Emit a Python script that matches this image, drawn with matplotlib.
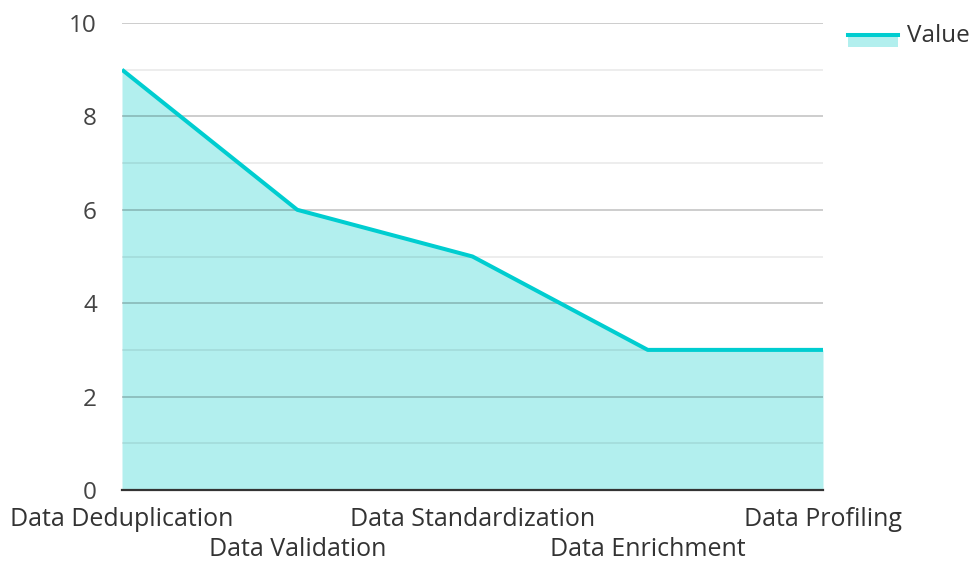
import matplotlib.pyplot as plt
from matplotlib.patches import Rectangle
from matplotlib.lines import Line2D

categories = ["Data Deduplication", "Data Validation", "Data Standardization",
              "Data Enrichment", "Data Profiling"]
values = [9, 6, 5, 3, 3]
series_name = "Value"

LINE = "#00cdd0"
FILL = "#b2efee"

plt.rcParams["font.family"] = ["Open Sans", "DejaVu Sans"]

fig = plt.figure(figsize=(9.73, 5.62), dpi=100)
ax = fig.add_axes([122 / 973, 72 / 562, 701 / 973, 467 / 562])

x = list(range(len(categories)))
ax.fill_between(x, values, 0, color=FILL, lw=0, zorder=1)
ax.plot(x, values, color=LINE, lw=2.9, zorder=3, solid_capstyle="butt")

ax.set_xlim(0, len(categories) - 1)
ax.set_ylim(0, 10)
ax.set_yticks(range(0, 11, 2))
ax.set_yticks(range(1, 10, 2), minor=True)
ax.grid(True, which="major", axis="y", color="black", alpha=0.21, lw=1.3)
ax.grid(True, which="minor", axis="y", color="black", alpha=0.08, lw=1.3)
ax.set_axisbelow(False)
for s in ["top", "right", "left"]:
    ax.spines[s].set_visible(False)
ax.spines["bottom"].set_color("#333333")
ax.spines["bottom"].set_linewidth(1.6)
ax.spines["bottom"].set_zorder(4)
ax.tick_params(axis="both", which="both", length=0)
ax.tick_params(axis="y", labelsize=17.5, labelcolor="#444444", pad=18)
ax.set_xticks([])

for i, lab in enumerate(categories):
    off = -30 if i % 2 == 0 else -60
    ax.annotate(lab, xy=(i, 0), xycoords=("data", "axes fraction"),
                xytext=(0, off), textcoords="offset pixels",
                ha="center", va="center", fontsize=18, color="#333333")

# legend drawn by hand at top right
fig.patches.append(Rectangle((848 / 973, 1 - 47 / 562), 50 / 973, 14 / 562,
                             transform=fig.transFigure, color=FILL, lw=0))
fig.lines.append(Line2D([848 / 973, 898 / 973], [1 - 35 / 562, 1 - 35 / 562],
                        transform=fig.transFigure, color=LINE, lw=2.9))
fig.text(907 / 973, 1 - 36 / 562, series_name, fontsize=17.5, color="#333333",
         va="center", ha="left")

fig.savefig("out.png", dpi=100)
